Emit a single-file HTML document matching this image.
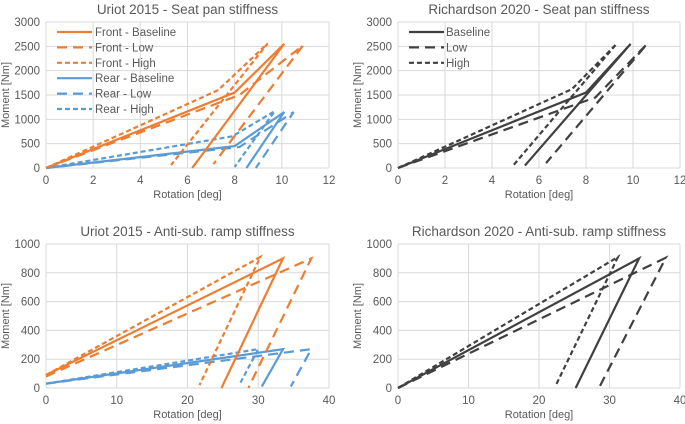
<!DOCTYPE html>
<html><head><meta charset="utf-8"><style>
html,body{margin:0;padding:0;background:#fff;}
svg{display:block;font-family:"Liberation Sans",sans-serif;}
</style></head><body>
<svg id="c" width="685" height="424" viewBox="0 0 685 424"></svg>
<script>
// ---- data ----
const tlFrontBase=[[0,0],[8,1550],[10.1,2550],[6.2,0]];
const tlFrontLow=[[0,0],[8.2,1500],[10.9,2520],[7.1,80]];
const tlFrontHigh=[[0,0],[7.3,1600],[9.4,2560],[5.3,60]];
const tlRearBase=[[0,0],[8,450],[10.1,1150],[8.5,0]];
const tlRearLow=[[0,0],[8.2,430],[10.5,1150],[8.9,0]];
const tlRearHigh=[[0,0],[7.9,650],[9.7,1170],[8.0,20]];
const trBase=[[0,0],[8,1550],[9.9,2550],[5.4,50]];
const trLow=[[0,0],[8.4,1450],[10.6,2550],[6.3,100]];
const trHigh=[[0,0],[7.4,1620],[9.3,2550],[4.9,50]];
const blFrontBase=[[0,90],[33.5,900],[24.8,0]];
const blFrontLow=[[0,80],[37.5,900],[28.6,0]];
const blFrontHigh=[[0,90],[30.3,910],[21.7,20]];
const blRearBase=[[0,30],[33.5,270],[30.5,10]];
const blRearLow=[[0,30],[37.5,270],[34.6,10]];
const blRearHigh=[[0,30],[30,270],[27.3,20]];
const brBase=[[0,0],[34.2,900],[25.2,0]];
const brLow=[[0,0],[38,905],[28.5,0]];
const brHigh=[[0,0],[31.2,910],[22.4,20]];
const ticksTopX=[0,2,4,6,8,10,12];
const ticksTopY=[0,500,1000,1500,2000,2500,3000];
const ticksBotX=[0,10,20,30,40];
const ticksBotY=[0,200,400,600,800,1000];
const legendLeft=["Front - Baseline","Front - Low","Front - High","Rear - Baseline","Rear - Low","Rear - High"];
const legendRight=["Baseline","Low","High"];

const NS="http://www.w3.org/2000/svg";
const svg=document.getElementById('c');
function el(t,a,p){const e=document.createElementNS(NS,t);for(const k in a)e.setAttribute(k,a[k]);(p||svg).appendChild(e);return e;}
const ORANGE="#ED7D31",BLUE="#5B9BD5",DARK="#404040";
const SOLID=null,LONG="10,6",SHORT="5,3";

function panel(id,x0,x1,y0,y1,xmax,ymax,xt,yt,title,series){
  const g=el('g',{});
  
  
  const sx=v=>x0+(x1-x0)*v/xmax, sy=v=>y0-(y0-y1)*v/ymax;
  xt.forEach(v=>{const l=el('line',{x1:sx(v),x2:sx(v),y1:y1,y2:y0,stroke:'#d9d9d9','stroke-width':1},g);
    
    const t=el('text',{x:sx(v),y:y0+16,'text-anchor':'middle','font-size':11.5,fill:'#595959'},g);t.textContent=v;
    });
  yt.forEach(v=>{const l=el('line',{x1:x0,x2:x1,y1:sy(v),y2:sy(v),stroke:'#d9d9d9','stroke-width':1},g);
    
    const t=el('text',{x:x0-6,y:sy(v)+4,'text-anchor':'end','font-size':11.5,fill:'#595959'},g);t.textContent=v;
    });
  const tt=el('text',{x:(x0+x1)/2,y:y1-8,'text-anchor':'middle','font-size':13.5,fill:'#595959'},g);tt.textContent=title;
  
  const xa=el('text',{x:(x0+x1)/2,y:y0+30,'text-anchor':'middle','font-size':11,fill:'#595959'},g);xa.textContent='Rotation [deg]';
  
  const ya=el('text',{x:0,y:0,'text-anchor':'middle','font-size':11,fill:'#595959',transform:`translate(${x0-37},${(y0+y1)/2}) rotate(-90)`},g);ya.textContent='Moment [Nm]';
  
  series.forEach(s=>{const a={points:s.d.map(p=>sx(p[0])+','+sy(p[1])).join(' '),fill:'none',stroke:s.c,'stroke-width':2.2};
    if(s.dash)a['stroke-dasharray']=s.dash;
    const p=el('polyline',a,g);
    });
  return g;
}
panel('seat-pan-uriot',46,329,168,22,12,3000,ticksTopX,ticksTopY,'Uriot 2015 - Seat pan stiffness',[
 {d:tlRearBase,c:BLUE,dash:SOLID,n:'rear-baseline-line'},{d:tlRearLow,c:BLUE,dash:LONG,n:'rear-low-line'},{d:tlRearHigh,c:BLUE,dash:SHORT,n:'rear-high-line'},
 {d:tlFrontBase,c:ORANGE,dash:SOLID,n:'front-baseline-line'},{d:tlFrontLow,c:ORANGE,dash:LONG,n:'front-low-line'},{d:tlFrontHigh,c:ORANGE,dash:SHORT,n:'front-high-line'}]);
panel('seat-pan-richardson',398,680,168,22,12,3000,ticksTopX,ticksTopY,'Richardson 2020 - Seat pan stiffness',[
 {d:trBase,c:DARK,dash:SOLID,n:'baseline-line'},{d:trLow,c:DARK,dash:LONG,n:'low-line'},{d:trHigh,c:DARK,dash:SHORT,n:'high-line'}]);
panel('ramp-uriot',46,329,388,244,40,1000,ticksBotX,ticksBotY,'Uriot 2015 - Anti-sub. ramp stiffness',[
 {d:blRearBase,c:BLUE,dash:SOLID,n:'rear-baseline-line'},{d:blRearLow,c:BLUE,dash:LONG,n:'rear-low-line'},{d:blRearHigh,c:BLUE,dash:SHORT,n:'rear-high-line'},
 {d:blFrontBase,c:ORANGE,dash:SOLID,n:'front-baseline-line'},{d:blFrontLow,c:ORANGE,dash:LONG,n:'front-low-line'},{d:blFrontHigh,c:ORANGE,dash:SHORT,n:'front-high-line'}]);
panel('ramp-richardson',398,680,388,244,40,1000,ticksBotX,ticksBotY,'Richardson 2020 - Anti-sub. ramp stiffness',[
 {d:brBase,c:DARK,dash:SOLID,n:'baseline-line'},{d:brLow,c:DARK,dash:LONG,n:'low-line'},{d:brHigh,c:DARK,dash:SHORT,n:'high-line'}]);

// legends
const lc=[ORANGE,ORANGE,ORANGE,BLUE,BLUE,BLUE],ld=[SOLID,LONG,SHORT,SOLID,LONG,SHORT];
legendLeft.forEach((t,i)=>{const y=32+i*15.4;
  const a={x1:57,x2:92,y1:y,y2:y,stroke:lc[i],'stroke-width':2.2};if(ld[i])a['stroke-dasharray']=ld[i];
  const l=el('line',a);
  const tx=el('text',{x:95,y:y+4,'font-size':11.5,fill:'#595959'});tx.textContent=t;
  });
legendRight.forEach((t,i)=>{const y=32+i*15.4;
  const a={x1:409,x2:444,y1:y,y2:y,stroke:DARK,'stroke-width':2.2};if(ld[i])a['stroke-dasharray']=ld[i];
  const l=el('line',a);
  const tx=el('text',{x:446,y:y+4,'font-size':11.5,fill:'#595959'});tx.textContent=t;
  });
</script>
</body></html>
